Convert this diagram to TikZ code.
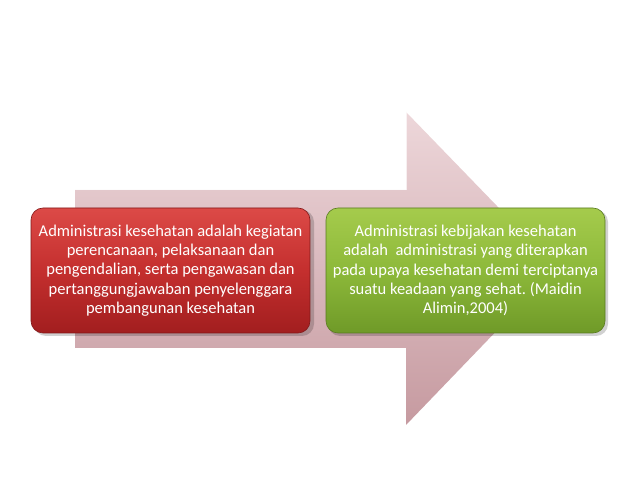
\documentclass[tikz,border=0pt]{standalone}
\usepackage{fontspec}
\setmainfont{Carlito}
\frenchspacing
\begin{document}
\begin{tikzpicture}[x=1pt,y=-1pt,
  box/.style={rounded corners=12pt, minimum width=279pt, minimum height=125pt,
    align=center, inner sep=0pt, text=white,
    font=\fontsize{16.5}{19.2}\selectfont},
  redbox/.style={box, top color=redtop, bottom color=redbot, middle color=redmid, draw=redbot!80!black, line width=0.6pt},
  greenbox/.style={box, top color=greentop, bottom color=greenbot, middle color=greenmid, draw=greenbot!80!black, line width=0.6pt},
  shadowbox/.style={rounded corners=12pt, fill=black, opacity=0.18}
]
\definecolor{redtop}{HTML}{DC4A47}
\definecolor{redmid}{HTML}{C42F2E}
\definecolor{redbot}{HTML}{A21E1F}
\definecolor{greentop}{HTML}{A5CB4C}
\definecolor{greenmid}{HTML}{8DB93A}
\definecolor{greenbot}{HTML}{6F9A28}
\definecolor{arrowtop}{HTML}{EDD7DA}
\definecolor{arrowbot}{HTML}{C69AA0}
\useasboundingbox (0,0) rectangle (638,478);
\fill[white] (0,0) rectangle (638,478);
% background arrow
\coordinate (a1) at (75,190);
\coordinate (a2) at (406,190);
\coordinate (a3) at (406,112);
\coordinate (a4) at (557,268);
\coordinate (a5) at (406,425);
\coordinate (a6) at (406,348);
\coordinate (a7) at (75,348);
\shade[top color=arrowtop, bottom color=arrowbot] (a1) -- (a2) -- (a3) -- (a4) -- (a5) -- (a6) -- (a7) -- cycle;
\draw[white, line width=1pt, opacity=0.7] (a1) -- (a2) -- (a3);
% shadows
\fill[shadowbox] (34,210) rectangle (314,336);
\fill[shadowbox] (328,210) rectangle (608,336);
% boxes
\node[redbox] (r) at (170.5,270.5) {Administrasi kesehatan adalah kegiatan\\perencanaan, pelaksanaan dan\\pengendalian, serta pengawasan dan\\pertanggungjawaban penyelenggara\\pembangunan kesehatan};
\node[greenbox] (g) at (465.5,270.5) {Administrasi kebijakan kesehatan\\adalah\ \ administrasi yang diterapkan\\pada upaya kesehatan demi terciptanya\\suatu keadaan yang sehat. (Maidin\\Alimin,2004)};
\end{tikzpicture}
\end{document}
